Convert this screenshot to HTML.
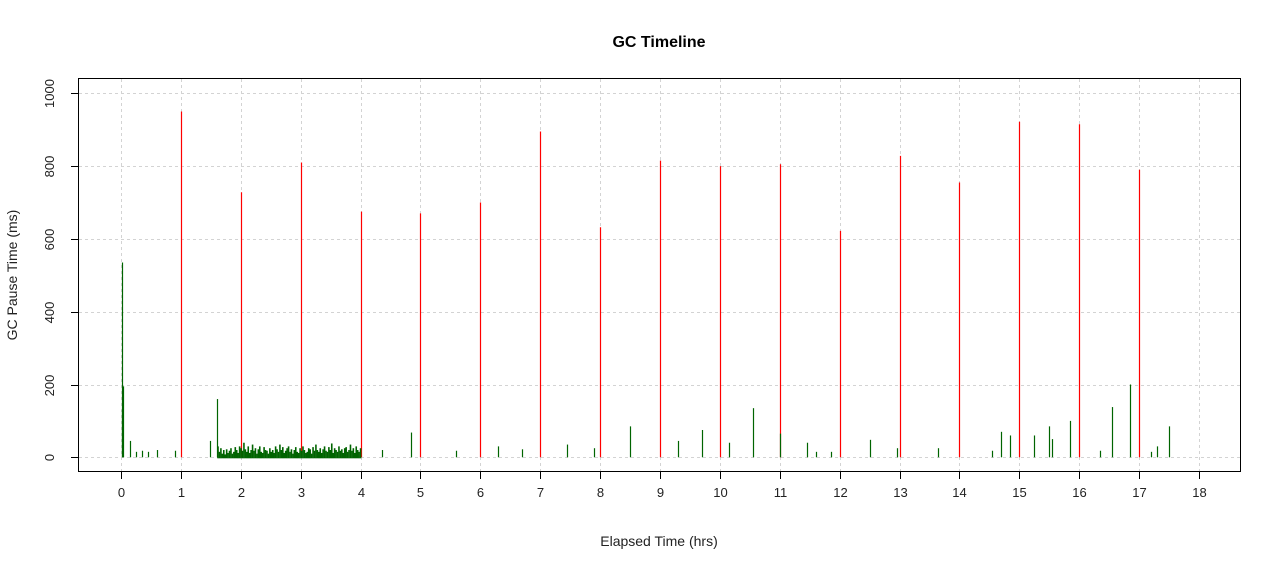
<!DOCTYPE html>
<html><head><meta charset="utf-8">
<style>
html,body{margin:0;padding:0;background:#fff;}
svg{display:block;font-family:"Liberation Sans",Arial,sans-serif;}
</style></head>
<body>
<svg id="chart" width="1280" height="570" viewBox="0 0 1280 570">
  <text x="659" y="47" text-anchor="middle" font-size="16" font-weight="bold" fill="#000">GC Timeline</text>
  <text x="659" y="546" text-anchor="middle" font-size="14" fill="#222">Elapsed Time (hrs)</text>
  <text transform="translate(17,275) rotate(-90)" text-anchor="middle" font-size="14" fill="#222">GC Pause Time (ms)</text>
  <g id="grid"></g>
  <g id="marks"></g>
  <g id="axes"></g>
  <rect x="78.5" y="78.5" width="1162" height="393" fill="none" stroke="#000" stroke-width="1"/>
</svg>
<script>
const xTicks = [0,1,2,3,4,5,6,7,8,9,10,11,12,13,14,15,16,17,18];
const yTicks = [0,200,400,600,800,1000];
const fullGcHours = [1,2,3,4,5,6,7,8,9,10,11,12,13,14,15,16,17];
const fullGcMs = [950,728,810,675,670,700,895,632,815,800,805,622,828,755,922,915,790];
const youngHours = [0.01,0.02,0.04,0.15,0.25,0.35,0.45,0.6,0.9,1.48,1.6,4.35,4.85,5.6,6.3,6.7,7.45,7.9,8.5,9.3,9.7,10.15,10.55,11.0,11.45,11.6,11.85,12.5,12.95,13.65,14.55,14.7,14.85,15.25,15.5,15.55,15.85,16.35,16.55,16.85,17.2,17.3,17.5];
const youngMs = [130,535,195,45,15,18,15,20,18,45,160,20,68,18,30,22,35,25,85,45,75,40,135,65,40,15,15,48,25,25,18,70,60,60,85,50,100,18,138,200,15,30,85];
const denseStart = 1.62, denseEnd = 4.0;
const denseMs = [30,15,25,10,20,8,22,12,18,25,10,15,28,20,12,30,25,18,40,22,15,30,12,20,35,18,25,10,22,30,15,12,28,20,18,10,25,15,20,12,30,22,15,35,20,28,12,18,25,30,15,22,10,20,28,15,12,25,18,30,20,12,15,25,22,10,28,18,35,20,15,25,12,22,30,18,15,28,20,38,12,25,20,15,30,18,22,12,25,28,15,20,35,18,25,12,30,20,15,25];

const svgNS = "http://www.w3.org/2000/svg";
const X0 = 121, PXH = (1199-121)/18;
const Y0 = 457.3, PXM = (457.3-93.3)/1000;
function xs(h){return X0 + h*PXH;}
function ys(v){return Y0 - v*PXM;}
function mk(tag, attrs, parent){const e=document.createElementNS(svgNS,tag);for(const k in attrs)e.setAttribute(k,attrs[k]);parent.appendChild(e);return e;}
const grid=document.getElementById('grid'), marks=document.getElementById('marks'), axes=document.getElementById('axes');

xTicks.forEach(t=>{
  const x=Math.round(xs(t))+0.5;
  const g=mk('line',{x1:x,x2:x,y1:79,y2:471,stroke:'#d3d3d3','stroke-dasharray':'3,3'},grid);
  
  
  const tk=mk('line',{x1:x,x2:x,y1:472,y2:479,stroke:'#000'},axes);
  
  
  const lb=mk('text',{x:x,y:497,'text-anchor':'middle','font-size':'13',fill:'#222'},axes);
  lb.textContent=t;
  
  
});
yTicks.forEach(t=>{
  const y=Math.round(ys(t))+0.5;
  const g=mk('line',{x1:79,x2:1240,y1:y,y2:y,stroke:'#d3d3d3','stroke-dasharray':'3,3'},grid);
  
  
  const tk=mk('line',{x1:71,x2:78,y1:y,y2:y,stroke:'#000'},axes);
  
  
  const lb=mk('text',{transform:`translate(54,${y}) rotate(-90)`,'text-anchor':'middle','font-size':'13',fill:'#222'},axes);
  lb.textContent=t;
  
  
});

fullGcHours.forEach((h,i)=>{
  const x=Math.round(xs(h))+0.5;
  const l=mk('line',{x1:x,x2:x,y1:ys(0),y2:ys(fullGcMs[i]),stroke:'#ff0000','stroke-width':1.2},marks);
  
  
});
youngHours.forEach((h,i)=>{
  const x=Math.round(xs(h))+0.5;
  const l=mk('line',{x1:x,x2:x,y1:ys(0),y2:ys(youngMs[i]),stroke:'#006400','stroke-width':1.2},marks);
  
  
});
const step=(denseEnd-denseStart)/(denseMs.length-1);
denseMs.forEach((v,i)=>{
  const x=xs(denseStart+i*step);
  const l=mk('line',{x1:x,x2:x,y1:ys(0)+1,y2:ys(v),stroke:'#006400','stroke-width':1.6},marks);
  
  
});
</script>
</body></html>
